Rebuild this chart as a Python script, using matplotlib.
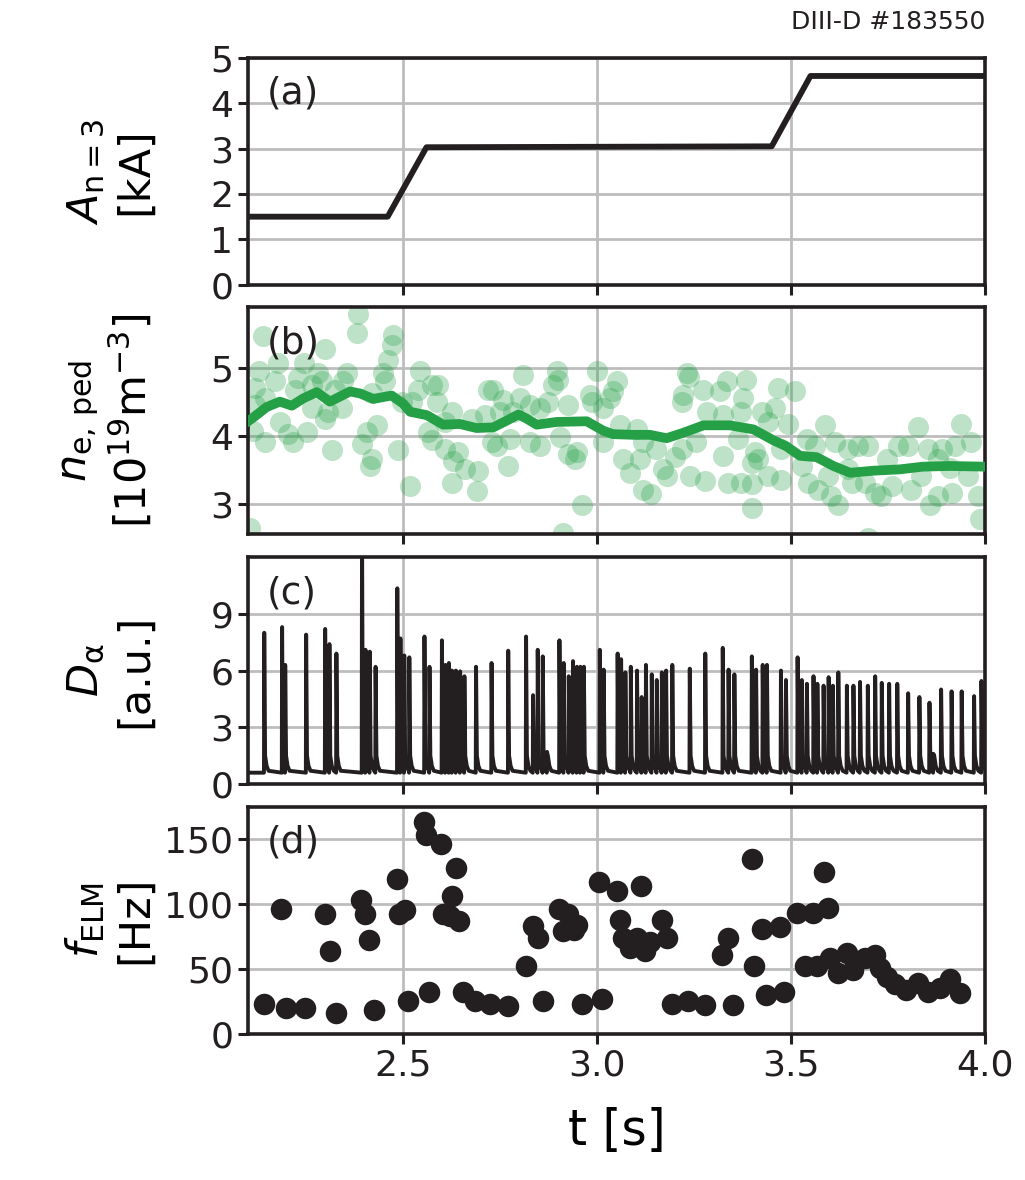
import matplotlib
matplotlib.use("Agg")
import matplotlib.pyplot as plt

# coil current (breakpoints of the waveform)
coil_t = [2.10, 2.46, 2.56, 3.45, 3.55, 4.00]
coil_a = [1.50, 1.50, 3.03, 3.05, 4.60, 4.60]

# pedestal density, raw points
ne_t = [2.384, 2.380, 2.474, 2.470, 2.139, 2.298, 2.178, 2.243, 2.127, 2.462,
        2.170, 2.230, 2.281, 2.290, 2.354, 2.449, 2.453, 2.543, 2.573, 2.591,
        2.539, 2.719, 2.118, 2.144, 2.221, 2.264, 2.324, 2.346, 2.419, 2.496,
        2.586, 2.118, 2.264, 2.341, 2.307, 2.298, 2.182, 2.204, 2.114, 2.144,
        2.217, 2.251, 2.432, 2.406, 2.393, 2.316, 2.419, 2.414, 2.487, 2.518,
        2.105, 2.573, 2.608, 2.642, 2.629, 2.659, 2.625, 2.694, 2.689, 2.677,
        2.711, 2.728, 2.522, 2.565, 2.608, 2.625,
        2.810, 2.896, 2.900, 2.887, 2.999, 3.050, 3.231, 3.236, 2.732, 2.758,
        2.801, 2.827, 2.874, 2.926, 2.981, 2.986, 3.033, 3.041, 3.016, 3.222,
        3.218, 3.273, 3.316, 3.334, 3.282, 3.325, 2.749, 2.784, 2.853, 2.741,
        2.775, 2.827, 2.853, 2.904, 2.947, 2.943, 2.771, 3.016, 3.059, 3.102,
        3.067, 3.085, 3.110, 3.119, 3.153, 3.170, 3.179, 3.200, 3.218, 3.239,
        3.278, 3.338, 3.325, 3.256, 3.119, 3.140, 2.960, 2.913, 2.926,
        3.385, 3.467, 3.510, 3.377, 3.424, 3.458, 3.372, 3.441, 3.493, 3.587,
        3.828, 3.939, 3.364, 3.407, 3.415, 3.475, 3.540, 3.561, 3.613, 3.647,
        3.673, 3.699, 3.776, 3.802, 3.853, 3.888, 3.922, 3.965, 3.398, 3.441,
        3.398, 3.475, 3.527, 3.544, 3.570, 3.596, 3.604, 3.621, 3.647, 3.656,
        3.690, 3.716, 3.733, 3.759, 3.746, 3.810, 3.836, 3.858, 3.879, 3.914,
        3.957, 3.982, 3.987, 3.398, 3.699, 3.372, 3.910, 3.879]
ne_v = [5.80, 5.53, 5.50, 5.35, 5.48, 5.28, 5.08, 5.08, 4.96, 5.13,
        4.81, 4.86, 4.93, 4.81, 4.93, 4.93, 4.81, 4.96, 4.76, 4.76,
        4.68, 4.68, 4.71, 4.56, 4.68, 4.76, 4.68, 4.81, 4.63, 4.51,
        4.51, 4.46, 4.41, 4.41, 4.36, 4.26, 4.21, 4.03, 4.08, 3.91,
        3.91, 4.06, 4.16, 4.06, 3.89, 3.79, 3.66, 3.56, 3.79, 3.26,
        2.64, 3.94, 3.81, 3.76, 3.64, 3.51, 3.31, 3.49, 3.19, 4.26,
        4.31, 3.91, 4.51, 4.06, 4.21, 4.36,
        4.91, 4.96, 4.83, 4.76, 4.96, 4.81, 4.93, 4.88, 4.68, 4.53,
        4.56, 4.46, 4.51, 4.46, 4.61, 4.51, 4.56, 4.66, 4.41, 4.61,
        4.51, 4.68, 4.66, 4.81, 4.36, 4.31, 4.36, 4.36, 4.41, 3.86,
        3.96, 3.91, 3.86, 3.99, 3.76, 3.66, 3.56, 3.91, 4.16, 4.11,
        3.66, 3.46, 3.66, 3.91, 3.81, 3.51, 3.41, 3.69, 3.81, 3.41,
        3.34, 3.31, 3.71, 3.91, 3.21, 3.14, 2.99, 2.57, 3.74,
        4.83, 4.71, 4.66, 4.56, 4.36, 4.41, 4.36, 4.21, 4.18, 4.16,
        4.13, 4.18, 3.96, 3.76, 3.66, 3.81, 3.96, 3.86, 3.91, 3.81,
        3.86, 3.86, 3.86, 3.86, 3.81, 3.81, 3.86, 3.91, 3.61, 3.41,
        3.29, 3.36, 3.56, 3.31, 3.21, 3.41, 3.11, 2.99, 3.51, 3.31,
        3.31, 3.16, 3.11, 3.26, 3.66, 3.21, 3.41, 2.99, 3.11, 3.16,
        3.41, 3.11, 2.77, 2.94, 2.50, 3.31, 3.53, 3.66]

# pedestal density, smoothed
ne_avg_t = [2.100, 2.110, 2.148, 2.182, 2.213, 2.243, 2.277, 2.311, 2.363, 2.389,
            2.423, 2.470, 2.500, 2.518, 2.561, 2.603, 2.646, 2.689, 2.732, 2.767,
            2.797, 2.818, 2.844, 2.896, 2.973, 3.016, 3.041, 3.093, 3.136, 3.179,
            3.222, 3.274, 3.342, 3.403, 3.454, 3.488, 3.523, 3.566, 3.609, 3.652,
            3.712, 3.780, 3.840, 3.909, 4.000]
ne_avg_v = [4.22, 4.26, 4.43, 4.51, 4.45, 4.56, 4.65, 4.51, 4.66, 4.63,
            4.55, 4.60, 4.48, 4.36, 4.31, 4.17, 4.18, 4.12, 4.13, 4.23,
            4.32, 4.26, 4.17, 4.21, 4.22, 4.08, 4.03, 4.02, 4.02, 3.97,
            4.05, 4.16, 4.16, 4.10, 3.94, 3.85, 3.71, 3.69, 3.56, 3.46,
            3.49, 3.51, 3.55, 3.56, 3.55]

# D-alpha ELM spikes: time and peak height
elm_t = [2.141, 2.187, 2.195, 2.249, 2.298, 2.309, 2.327, 2.393, 2.402, 2.413,
         2.428, 2.484, 2.492, 2.502, 2.515, 2.554, 2.567, 2.599, 2.608, 2.617,
         2.625, 2.635, 2.646, 2.657, 2.687, 2.727, 2.770, 2.816, 2.834, 2.846,
         2.859, 2.870, 2.902, 2.913, 2.926, 2.937, 2.947, 2.956, 2.965, 3.006,
         3.016, 3.052, 3.061, 3.072, 3.086, 3.102, 3.114, 3.125, 3.140, 3.153,
         3.166, 3.177, 3.193, 3.238, 3.278, 3.323, 3.338, 3.353, 3.398, 3.409,
         3.426, 3.437, 3.473, 3.486, 3.516, 3.527, 3.540, 3.557, 3.567, 3.583,
         3.596, 3.607, 3.621, 3.643, 3.660, 3.677, 3.697, 3.716, 3.733, 3.752,
         3.773, 3.801, 3.830, 3.856, 3.866, 3.886, 3.913, 3.939, 3.971, 3.990]
elm_h = [8.0, 8.3, 6.3, 7.9, 8.2, 7.4, 6.9, 14.0, 7.1, 7.0,
         6.2, 10.35, 7.7, 6.8, 6.7, 7.8, 6.2, 7.6, 6.3, 6.4,
         6.0, 6.0, 5.96, 5.7, 6.2, 6.4, 7.05, 7.8, 4.7, 7.1,
         6.75, 1.7, 7.6, 6.4, 5.7, 6.5, 6.2, 6.2, 6.2, 7.1,
         6.05, 6.9, 6.6, 5.9, 6.2, 6.0, 4.6, 6.3, 5.8, 5.5,
         5.9, 6.0, 6.3, 6.1, 6.9, 7.2, 6.05, 5.8, 6.75, 6.05,
         6.3, 6.3, 6.0, 5.5, 6.7, 5.5, 5.3, 5.7, 5.3, 5.2,
         5.65, 5.2, 5.9, 5.2, 5.2, 5.4, 5.2, 5.7, 5.35, 5.3,
         5.3, 4.8, 4.6, 4.3, 1.6, 5.0, 4.9, 4.9, 4.65, 5.45]

# ELM frequency
felm_t = [2.141, 2.186, 2.197, 2.247, 2.299, 2.310, 2.326, 2.390, 2.401, 2.412,
          2.426, 2.483, 2.490, 2.505, 2.513, 2.554, 2.560, 2.566, 2.597, 2.636,
          2.627, 2.602, 2.621, 2.644, 2.655, 2.685, 2.725, 2.769, 2.816, 2.835,
          2.848, 2.861, 2.902, 2.926, 2.913, 2.947, 2.940, 2.960, 3.005, 3.013,
          3.050, 3.114, 3.060, 3.067, 3.085, 3.102, 3.123, 3.136, 3.166, 3.179,
          3.192, 3.235, 3.278, 3.351, 3.338, 3.321, 3.398, 3.404, 3.424, 3.471,
          3.435, 3.481, 3.514, 3.557, 3.595, 3.585, 3.536, 3.566, 3.600, 3.621,
          3.643, 3.660, 3.690, 3.716, 3.729, 3.746, 3.768, 3.797, 3.827, 3.853,
          3.884, 3.909, 3.935]
felm_v = [23, 96, 20, 20, 92, 64, 16, 103, 92, 72,
          18, 119, 92, 95, 25, 163, 153, 32, 146, 128,
          106, 92, 91, 87, 32, 25, 23, 21, 52, 83,
          74, 25, 96, 92, 79, 84, 80, 23, 117, 27,
          110, 114, 88, 74, 66, 74, 64, 71, 88, 74,
          23, 25, 22, 22, 74, 61, 135, 52, 81, 82,
          30, 32, 93, 93, 97, 125, 52, 52, 58, 47,
          62, 49, 58, 61, 51, 44, 38, 34, 39, 32,
          35, 42, 31]

# build the D-alpha trace from the spike list
base = 0.6
da_t = [2.10]
da_v = [base]
for i, (t, h) in enumerate(zip(elm_t, elm_h)):
    nxt = elm_t[i + 1] if i + 1 < len(elm_t) else 4.02
    da_t += [t, t + 0.0008]
    da_v += [base, h]
    for dt, v in zip([0.003, 0.007, 0.012], [1.5, 0.95, 0.7]):
        if t + dt < nxt - 0.0006:
            da_t.append(t + dt)
            da_v.append(v)
da_t.append(4.02)
da_v.append(base)

green = "#25a047"
black = "#231f20"
grid_c = "#bdbdbd"

plt.rcParams["font.family"] = "DejaVu Sans"
plt.rcParams["mathtext.fontset"] = "dejavusans"

fig, axes = plt.subplots(4, 1, sharex=True, figsize=(10.25, 11.8), dpi=100)
fig.subplots_adjust(left=0.242, right=0.961, top=0.951, bottom=0.124, hspace=0.1)

ax = axes[0]
ax.plot(coil_t, coil_a, color=black, lw=4.2)
ax.set_ylim(0, 5)
ax.set_yticks([0, 1, 2, 3, 4, 5])
ax.set_ylabel("$A_{\\rm n=3}$\n[kA]")

ax = axes[1]
ax.scatter(ne_t, ne_v, s=230, color=green, alpha=0.3, lw=0, zorder=2)
ax.plot(ne_avg_t, ne_avg_v, color=green, lw=7, zorder=3)
ax.set_ylim(2.55, 5.9)
ax.set_yticks([3, 4, 5])
ax.set_ylabel("$n_{\\rm e,\\,ped}$\n$[10^{19}\\rm m^{-3}]$")

ax = axes[2]
ax.plot(da_t, da_v, color=black, lw=2.8)
ax.set_ylim(0, 12)
ax.set_yticks([0, 3, 6, 9])
ax.set_ylabel("$D_{\\rm \\alpha}$\n[a.u.]")

ax = axes[3]
ax.scatter(felm_t, felm_v, s=240, color=black, lw=0, zorder=3)
ax.set_ylim(0, 175)
ax.set_yticks([0, 50, 100, 150])
ax.set_ylabel("$f_{\\rm ELM}$\n[Hz]")
ax.set_xlim(2.1, 4.0)
ax.set_xticks([2.5, 3.0, 3.5, 4.0])
ax.set_xticklabels(["2.5", "3.0", "3.5", "4.0"])
ax.set_xlabel("t [s]", fontsize=35, labelpad=18)

for ax, lab in zip(axes, ["(a)", "(b)", "(c)", "(d)"]):
    ax.grid(True, color=grid_c, lw=2.0)
    ax.set_axisbelow(True)
    for sp in ax.spines.values():
        sp.set_linewidth(2.6)
        sp.set_color(black)
    ax.tick_params(labelsize=26, length=7, width=2.2, color=black,
                   labelcolor=black)
    ax.yaxis.label.set_size(31)
    ax.yaxis.labelpad = 6
    ax.text(0.025, 0.92, lab, transform=ax.transAxes, fontsize=27,
            va="top", ha="left", color=black, zorder=5)

fig.align_ylabels(axes)
fig.text(0.961, 0.981, "DIII-D #183550", ha="right", va="center",
         fontsize=18, color=black)

plt.savefig("out.png", dpi=100)
